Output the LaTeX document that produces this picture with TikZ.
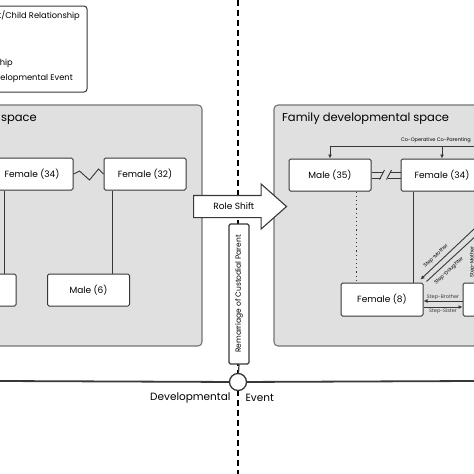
\documentclass[tikz,border=0pt]{standalone}
\usepackage{fontspec}
\setmainfont{Poppins}
\usepackage{tikz}
\usetikzlibrary{positioning,arrows.meta,shapes,calc}
\usepackage{xcolor}
\definecolor{panelgray}{rgb}{0.88,0.88,0.88}
\definecolor{edgegray}{rgb}{0.45,0.45,0.45}
\definecolor{boxline}{rgb}{0.22,0.22,0.22}

\begin{document}
\begin{tikzpicture}[x=1pt,y=-1pt]
\tikzstyle{basenode}=[rounded corners=1.5pt, align=center, font=\fontsize{9}{10}\selectfont];
\tikzstyle{person}=[basenode, draw=boxline, fill=white, line width=1pt, minimum width=82pt, minimum height=32pt, inner sep=0pt];
\tikzstyle{space}=[fill=panelgray, draw=edgegray, line width=1.1pt, rounded corners=4pt];
\tikzstyle{title}=[font=\fontsize{11.5}{13}\selectfont, inner sep=0pt];
\tikzstyle{legendtext}=[anchor=east, font=\fontsize{8.3}{9}\selectfont, inner sep=0pt];
\tikzstyle{tiny}=[font=\fontsize{5}{5.5}\selectfont, inner sep=0.8pt];
\tikzstyle{rel}=[line width=0.9pt, boxline];
\tikzstyle{arr}=[rel, -{Latex[length=4pt,width=4pt]}];
\tikzstyle{nocust}=[rel, line width=1.1pt, dash pattern=on 1.2pt off 3pt];
\tikzstyle{shiftarrow}=[shape=single arrow, draw=boxline, fill=white, line width=1.1pt, single arrow head extend=11.5pt, single arrow tip angle=83, minimum height=93pt, text height=6.5pt, text depth=0pt, inner ysep=7.25pt, inner xsep=4pt, font=\fontsize{9}{10}\selectfont];
\tikzstyle{eventbox}=[basenode, draw=boxline, fill=white, line width=1.1pt, minimum width=140pt, minimum height=20pt, inner sep=0pt, font=\fontsize{7.5}{8}\selectfont];

\useasboundingbox (0,0) rectangle (474,474);
\clip (0,0) rectangle (474,474);

% time split
\draw[line width=2pt, dash pattern=on 6pt off 4pt] (238,0) -- (238,474);

% legend
\draw[draw=boxline, fill=white, line width=1pt, rounded corners=3pt] (-60,6) rectangle (87,92);
\node[legendtext] (lgpc) at (80,16) {Parent/Child Relationship};
\node[legendtext] (lgpart) at (13,63) {Partnership};
\node[legendtext] (lgev) at (73,79) {Developmental Event};

% before
\draw[space] (-30,105) rectangle (202,346);
\node[title, anchor=east] (titleL) at (37,119) {Family developmental space};
\node[person] (lmom) at (32,174) {Female (34)};
\node[person] (lpart) at (145,174) {Female (32)};
\node[person] (lkid1) at (-25,290) {};
\node[person] (lkid2) at (88.5,290) {Male (6)};

\draw[rel] (lmom.east) -- ++(6,-3) -- ++(10,9) -- ++(9,-11) -- (lpart.west);
\draw[rel] ([xshift=-28pt]lmom.south) -- ([xshift=-28pt]lmom.south |- lkid1.north);
\draw[rel] ([xshift=9pt]lpart.south west) -- ([xshift=9pt]lpart.south west |- lkid2.north);

% after
\draw[space] (274,105) rectangle (520,346);
\node[title, anchor=west] (titleR) at (282,119) {Family developmental space};
\node[person] (rdad) at (330,175) {Male (35)};
\node[person] (rmom) at (442,175) {Female (34)};
\node[person, minimum height=33pt] (rdau) at (382,299.5) {Female (8)};
\node[person, minimum height=33pt] (rsib) at (504,299.5) {};

\coordinate (cpright) at (520,146);
\draw[arr] (cpright) -| (rdad.north);
\draw[arr] (rmom.north |- cpright) -- (rmom.north);
\node[tiny, anchor=west] (cplbl) at (400,140.5) {Co-Operative Co-Parenting};

\coordinate (dv) at ($(rdad.east)!0.5!(rmom.west)$);
\draw[rel] (rdad.east |- 0,172) -- ($(dv)+(-3,-3)$);
\draw[rel] (rdad.east |- 0,178) -- ($(dv)+(-5.5,3)$);
\draw[rel] ($(dv)+(-6.5,4.5)$) -- ($(dv)+(-1.5,-5)$);
\draw[rel] ($(dv)+(0.5,4.5)$) -- ($(dv)+(5.5,-5)$);
\draw[rel] ($(dv)+(4,-3)$) -- (rmom.west |- 0,172);
\draw[rel] ($(dv)+(1.5,3)$) -- (rmom.west |- 0,178);

\draw[nocust] ([xshift=-15pt]rdad.south east) -- ([xshift=-15pt]rdad.south east |- rdau.north);
\draw[rel] ([xshift=13pt]rmom.south west) -- ([xshift=13pt]rmom.south west |- rdau.north);

% step relations
\coordinate (smtop) at (492,212);
\coordinate (sdtop) at (492,221);
\draw[arr] (smtop) -- ([shift={(-3,-3)}]rdau.north east);
\draw[arr] ([shift={(3,-1)}]rdau.north east) -- (sdtop);
\node[tiny, rotate=43.4] (smlbl) at (436,256) {Step-Mother};
\node[tiny, rotate=42.7] (sdlbl) at (449,271) {Step-Daughter};
\node[tiny, rotate=90] (smvert) at (472.5,262) {Step-Mother};

\draw[arr] ([yshift=-1.5pt]rsib.west) -- ([yshift=-1.5pt]rdau.east) node[tiny, midway, above] {Step-Brother};
\draw[arr] ([yshift=-7.5pt]rdau.east) -- ([yshift=-7.5pt]rsib.west) node[tiny, midway, below] {Step-Sister};

% event
\node[shiftarrow, anchor=tail] (roleshift) at (193,206.5) {Role Shift};
\node[eventbox, rotate=90] (remarry) at (239,294) {Remarriage of Custodial Parent};
\node[circle, draw=boxline, fill=white, line width=1.3pt, minimum size=17pt, inner sep=0pt] (devev) at (238,382) {};
\coordinate (tstart) at (0,381);
\coordinate (tend) at (474,381);
\draw[line width=1.8pt, boxline] (tstart) -- (devev) -- (tend);
\draw[rel, line width=1.2pt] (remarry.west) -- (devev);
\node[anchor=east, font=\fontsize{10.5}{11}\selectfont] (devlbl) at (234,398) {Developmental};
\node[anchor=west, font=\fontsize{10.5}{11}\selectfont] (evlbl) at (242,398) {Event};

\end{tikzpicture}
\end{document}
